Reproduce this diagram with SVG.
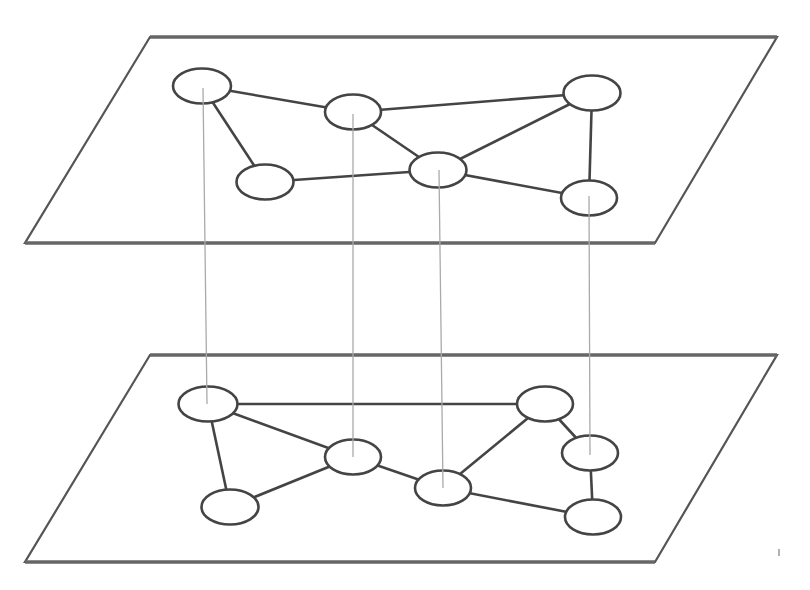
<svg xmlns="http://www.w3.org/2000/svg" width="810" height="590" viewBox="0 0 810 590">
<style>
.plane{fill:#fff;stroke:#555;stroke-width:2.2;stroke-linejoin:miter}
.edge{stroke:#444;stroke-width:2.6;fill:none}
.node ellipse{fill:#fff;stroke:#444;stroke-width:2.6}
.link{stroke:#aaa;stroke-width:1.3;fill:none}
</style>
<rect width="810" height="590" fill="#fff"/>
<g id="plane-top">
<polygon class="plane" points="150,37 777,37 655,243 25,243"/>
<line x1="150" y1="37" x2="777" y2="37" stroke="#666" stroke-width="3.5"/>
<line x1="25" y1="243" x2="655" y2="243" stroke="#666" stroke-width="3.5"/>
</g>
<g id="plane-bottom">
<polygon class="plane" points="150,355 777,355 655,562 25,562"/>
<line x1="150" y1="355" x2="777" y2="355" stroke="#666" stroke-width="3.5"/>
<line x1="25" y1="562" x2="655" y2="562" stroke="#666" stroke-width="3.5"/>
</g>
<g id="edges">
<line class="edge" x1="202" y1="86" x2="353" y2="112"/>
<line class="edge" x1="202" y1="86" x2="265" y2="182"/>
<line class="edge" x1="353" y1="112" x2="592" y2="93"/>
<line class="edge" x1="353" y1="112" x2="438" y2="170"/>
<line class="edge" x1="265" y1="182" x2="438" y2="170"/>
<line class="edge" x1="438" y1="170" x2="592" y2="93"/>
<line class="edge" x1="438" y1="170" x2="589" y2="198"/>
<line class="edge" x1="592" y1="93" x2="589" y2="198"/>
<line class="edge" x1="208" y1="404" x2="545" y2="404" stroke-width="3.4" stroke="#555"/>
<line class="edge" x1="208" y1="404" x2="353" y2="457"/>
<line class="edge" x1="208" y1="404" x2="230" y2="507"/>
<line class="edge" x1="230" y1="507" x2="353" y2="457"/>
<line class="edge" x1="353" y1="457" x2="443" y2="488"/>
<line class="edge" x1="443" y1="488" x2="545" y2="404"/>
<line class="edge" x1="545" y1="404" x2="590" y2="453"/>
<line class="edge" x1="590" y1="453" x2="593" y2="517"/>
<line class="edge" x1="443" y1="488" x2="593" y2="517"/>
</g>
<g id="A" class="node"><ellipse cx="202" cy="86" rx="29" ry="17.5"/></g>
<g id="B" class="node"><ellipse cx="353" cy="112" rx="28" ry="17.5"/></g>
<g id="C" class="node"><ellipse cx="592" cy="93" rx="28.5" ry="17.5"/></g>
<g id="D" class="node"><ellipse cx="265" cy="182" rx="28.5" ry="17.5"/></g>
<g id="E" class="node"><ellipse cx="438" cy="170" rx="28.5" ry="17.5"/></g>
<g id="F" class="node"><ellipse cx="589" cy="198" rx="28" ry="17.5"/></g>
<g id="G" class="node"><ellipse cx="208" cy="404" rx="29.5" ry="17.5"/></g>
<g id="H" class="node"><ellipse cx="353" cy="457" rx="28" ry="17.5"/></g>
<g id="I" class="node"><ellipse cx="230" cy="507" rx="28.5" ry="17.5"/></g>
<g id="J" class="node"><ellipse cx="443" cy="488" rx="28" ry="17.5"/></g>
<g id="K" class="node"><ellipse cx="545" cy="404" rx="28" ry="17.5"/></g>
<g id="L" class="node"><ellipse cx="590" cy="453" rx="28" ry="17.5"/></g>
<g id="M" class="node"><ellipse cx="593" cy="517" rx="28" ry="17.5"/></g>
<g id="links">
<line class="link" x1="203" y1="88" x2="207" y2="404"/>
<line class="link" x1="353" y1="114" x2="353" y2="457"/>
<line class="link" x1="439" y1="170" x2="443" y2="488"/>
<line class="link" x1="589" y1="196" x2="590" y2="455"/>
</g>
<line x1="779" y1="549" x2="779" y2="556" stroke="#999" stroke-width="1.5"/>
</svg>
